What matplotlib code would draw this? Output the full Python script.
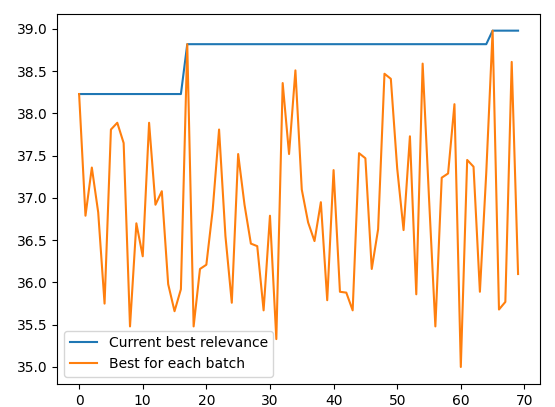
import matplotlib
matplotlib.use('Agg')
import matplotlib.pyplot as plt
import numpy as np

batch_best = [
    38.23, 36.79, 37.36, 36.83, 35.75, 37.81, 37.89, 37.65, 35.48, 36.70,
    36.31, 37.89, 36.92, 37.08, 35.98, 35.66, 35.92, 38.82, 35.48, 36.16,
    36.21, 36.86, 37.81, 36.55, 35.76, 37.52, 36.92, 36.46, 36.43, 35.67,
    36.79, 35.33, 38.36, 37.52, 38.51, 37.10, 36.71, 36.49, 36.95, 35.79,
    37.33, 35.89, 35.88, 35.67, 37.53, 37.47, 36.16, 36.63, 38.47, 38.41,
    37.35, 36.62, 37.73, 35.86, 38.59, 37.00, 35.48, 37.24, 37.29, 38.11,
    35.00, 37.45, 37.37, 35.89, 37.30, 38.98, 35.68, 35.77, 38.61, 36.10,
]
current_best = np.maximum.accumulate(batch_best)
steps = np.arange(len(batch_best))

fig, ax = plt.subplots(figsize=(5.55, 4.07), dpi=100)
ax.plot(steps, current_best, label='Current best relevance')
ax.plot(steps, batch_best, label='Best for each batch')
ax.legend(loc='lower left')
plt.subplots_adjust(left=0.103, right=0.973, top=0.966, bottom=0.057)
plt.savefig('out.png')
